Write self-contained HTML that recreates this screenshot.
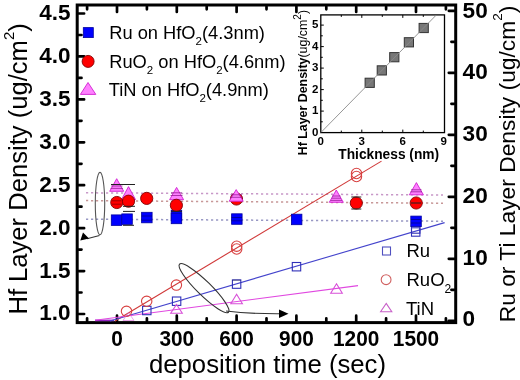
<!DOCTYPE html>
<html><head><meta charset="utf-8"><title>Hf layer density vs deposition time</title>
<style>html,body{margin:0;padding:0;background:#fff;}svg{display:block;}</style></head>
<body><svg width="520" height="380" viewBox="0 0 520 380">
<rect width="520" height="380" fill="#fff"/>
<rect x="77.2" y="5.0" width="378.5" height="317.6" fill="none" stroke="#000" stroke-width="3"/>
<path d="M87.1 321.1V318.3M87.1 6.5V9.3M117.0 321.1V315.7M117.0 6.5V11.9M146.9 321.1V318.3M146.9 6.5V9.3M176.8 321.1V315.7M176.8 6.5V11.9M206.7 321.1V318.3M206.7 6.5V9.3M236.6 321.1V315.7M236.6 6.5V11.9M266.5 321.1V318.3M266.5 6.5V9.3M296.4 321.1V315.7M296.4 6.5V11.9M326.3 321.1V318.3M326.3 6.5V9.3M356.2 321.1V315.7M356.2 6.5V11.9M386.1 321.1V318.3M386.1 6.5V9.3M416.0 321.1V315.7M416.0 6.5V11.9M445.9 321.1V318.3M445.9 6.5V9.3M78.7 314.0H84.1M78.7 292.5H81.5M78.7 271.1H84.1M78.7 249.6H81.5M78.7 228.2H84.1M78.7 206.7H81.5M78.7 185.2H84.1M78.7 163.8H81.5M78.7 142.3H84.1M78.7 120.8H81.5M78.7 99.4H84.1M78.7 77.9H81.5M78.7 56.4H84.1M78.7 35.0H81.5M78.7 13.5H84.1M454.2 320.8H448.8M454.2 289.8H451.4M454.2 258.8H448.8M454.2 227.8H451.4M454.2 196.8H448.8M454.2 165.8H451.4M454.2 134.8H448.8M454.2 103.8H451.4M454.2 72.8H448.8M454.2 41.8H451.4M454.2 10.8H448.8" stroke="#000" stroke-width="2.7" stroke-linecap="round" fill="none"/>
<g font-family='"Liberation Sans", Arial, sans-serif' font-weight="bold" font-size="22.5"><text x="70.6" y="19.9" text-anchor="end">4.5</text><text x="70.6" y="62.8" text-anchor="end">4.0</text><text x="70.6" y="105.8" text-anchor="end">3.5</text><text x="70.6" y="148.7" text-anchor="end">3.0</text><text x="70.6" y="191.6" text-anchor="end">2.5</text><text x="70.6" y="234.6" text-anchor="end">2.0</text><text x="70.6" y="277.5" text-anchor="end">1.5</text><text x="70.6" y="320.4" text-anchor="end">1.0</text></g>
<g font-family='"Liberation Sans", Arial, sans-serif' font-weight="bold" font-size="21.5" transform="scale(0.97 1)"><text x="120.6" y="345.8" text-anchor="middle">0</text><text x="182.3" y="345.8" text-anchor="middle">300</text><text x="243.9" y="345.8" text-anchor="middle">600</text><text x="305.6" y="345.8" text-anchor="middle">900</text><text x="367.2" y="345.8" text-anchor="middle">1200</text><text x="428.9" y="345.8" text-anchor="middle">1500</text></g>
<g font-family='"Liberation Sans", Arial, sans-serif' font-weight="bold" font-size="22.6"><text x="462.6" y="326.3">0</text><text x="462.6" y="264.6">10</text><text x="462.6" y="202.8">20</text><text x="462.6" y="141.1">30</text><text x="462.6" y="79.3">40</text><text x="462.6" y="17.6">50</text></g>
<text transform="translate(27.3,314.6) rotate(-90)" font-family='"Liberation Sans", Arial, sans-serif' font-size="25.6">Hf Layer Density (ug/cm<tspan font-size="15" dy="-13">2</tspan><tspan dy="13">)</tspan></text>
<text transform="translate(514.7,322.3) rotate(-90)" font-family='"Liberation Sans", Arial, sans-serif' font-size="22.8">Ru or Ti Layer Density (ug/cm<tspan font-size="13.5" dy="-13">2</tspan><tspan dy="13">)</tspan></text>
<text x="149" y="373" font-family='"Liberation Sans", Arial, sans-serif' font-size="25.7">deposition time (sec)</text>
<path d="M86 192.8L443 195" stroke="#c898c8" stroke-width="1.5" stroke-dasharray="2.2 2.8"/>
<path d="M86 200.6L443 203.2" stroke="#c89898" stroke-width="1.5" stroke-dasharray="2.2 2.8"/>
<path d="M86 219.2L443 221.2" stroke="#9898c4" stroke-width="1.5" stroke-dasharray="2.2 2.8"/>
<path d="M95 320.4L114 320.4" stroke="#9020c0" stroke-width="1.6"/>
<path d="M115 321L381.5 161.1" stroke="#d03838" stroke-width="1.1"/>
<path d="M110 321L444.6 222.6" stroke="#4444cc" stroke-width="1.1"/>
<path d="M95 320.2L358 285.6" stroke="#e048e0" stroke-width="1.1"/>
<rect x="142.6" y="306.3" width="8.4" height="8.4" fill="none" stroke="#3030b8" stroke-width="1.1"/><rect x="172.4" y="297.0" width="8.4" height="8.4" fill="none" stroke="#3030b8" stroke-width="1.1"/><rect x="232.4" y="279.9" width="8.4" height="8.4" fill="none" stroke="#3030b8" stroke-width="1.1"/><rect x="292.3" y="262.5" width="8.4" height="8.4" fill="none" stroke="#3030b8" stroke-width="1.1"/><rect x="411.5" y="224.8" width="8.4" height="8.4" fill="none" stroke="#3030b8" stroke-width="1.1"/><rect x="411.5" y="227.8" width="8.4" height="8.4" fill="none" stroke="#3030b8" stroke-width="1.1"/><circle cx="126.5" cy="311.3" r="5.2" fill="none" stroke="#d84040" stroke-width="1.1"/><circle cx="146.7" cy="301.3" r="5.2" fill="none" stroke="#d84040" stroke-width="1.1"/><circle cx="176.4" cy="285.1" r="5.2" fill="none" stroke="#d84040" stroke-width="1.1"/><circle cx="236.7" cy="246.2" r="5.2" fill="none" stroke="#d84040" stroke-width="1.1"/><circle cx="236.7" cy="249.0" r="5.2" fill="none" stroke="#d84040" stroke-width="1.1"/><circle cx="356.5" cy="173.5" r="5.2" fill="none" stroke="#d84040" stroke-width="1.1"/><circle cx="356.5" cy="176.5" r="5.2" fill="none" stroke="#d84040" stroke-width="1.1"/><path d="M128.5 312.5L134 320.5H123Z" fill="none" stroke="#d860d8" stroke-opacity="0.55" stroke-width="1"/><path d="M176.5 304.5L182.3 313.2H170.7Z" fill="none" stroke="#d850d8" stroke-width="1.1"/><path d="M236.6 294.2L242.4 303.7H230.8Z" fill="none" stroke="#d850d8" stroke-width="1.1"/><path d="M336.5 283.7L342.3 293.3H330.7Z" fill="none" stroke="#d850d8" stroke-width="1.1"/>
<rect x="111.3" y="214.9" width="10.5" height="10.5" fill="#0000ff" stroke="#0000a0" stroke-width="0.8"/><rect x="121.8" y="213.9" width="10.5" height="10.5" fill="#0000ff" stroke="#0000a0" stroke-width="0.8"/><rect x="141.6" y="212.3" width="10.5" height="10.5" fill="#0000ff" stroke="#0000a0" stroke-width="0.8"/><rect x="171.2" y="210.2" width="10.5" height="10.5" fill="#0000ff" stroke="#0000a0" stroke-width="0.8"/><rect x="171.2" y="213.2" width="10.5" height="10.5" fill="#0000ff" stroke="#0000a0" stroke-width="0.8"/><rect x="231.6" y="213.8" width="10.5" height="10.5" fill="#0000ff" stroke="#0000a0" stroke-width="0.8"/><rect x="291.4" y="214.2" width="10.5" height="10.5" fill="#0000ff" stroke="#0000a0" stroke-width="0.8"/><rect x="410.8" y="216.1" width="10.5" height="10.5" fill="#0000ff" stroke="#0000a0" stroke-width="0.8"/><circle cx="236.5" cy="199.0" r="6.1" fill="#ff0000" stroke="#800000" stroke-width="0.9"/><path d="M116.7 178.7L123.7 191.3H109.7Z" fill="#ff80ff" stroke="#d020d0" stroke-width="0.9"/><path d="M128.5 186.6L135.5 199.6H121.5Z" fill="#ff80ff" stroke="#d020d0" stroke-width="0.9"/><path d="M176.6 187.4L183.6 199.7H169.6Z" fill="#ff80ff" stroke="#d020d0" stroke-width="0.9"/><path d="M236.2 189.6L243.2 201.2H229.2Z" fill="#ff80ff" stroke="#d020d0" stroke-width="0.9"/><path d="M336.3 190.0L343.3 202.3H329.3Z" fill="#ff80ff" stroke="#d020d0" stroke-width="0.9"/><path d="M416.4 182.6L423.4 194.8H409.4Z" fill="#ff80ff" stroke="#d020d0" stroke-width="0.9"/><circle cx="116.8" cy="202.5" r="6.1" fill="#ff0000" stroke="#800000" stroke-width="0.9"/><circle cx="128.5" cy="201.2" r="6.1" fill="#ff0000" stroke="#800000" stroke-width="0.9"/><circle cx="146.7" cy="198.4" r="6.1" fill="#ff0000" stroke="#800000" stroke-width="0.9"/><circle cx="176.4" cy="205.3" r="6.1" fill="#ff0000" stroke="#800000" stroke-width="0.9"/><circle cx="356.3" cy="203.0" r="6.1" fill="#ff0000" stroke="#800000" stroke-width="0.9"/><circle cx="416.2" cy="203.0" r="6.1" fill="#ff0000" stroke="#800000" stroke-width="0.9"/>
<path d="M111 184.5H135M123 206.3H135M123 211.4H135M123 225.3H134M171 211.3H182M351.3 197H361.3M351.3 209H361.3M411 203H421" stroke="#202020" stroke-width="1"/>
<path d="M232.4 280.2H240.8M141.5 216H152M141.5 220.2H152M112 200.8H121.5M112 204.2H121.5M411 219.5H421M411 223H421M231.5 217.5H242M231.5 220.8H242" stroke="#000" stroke-opacity="0.45" stroke-width="0.8"/>
<path d="M332 196H340.6M331.5 198.2H341M330.5 200.4H342M411 189.8H421.5M410.5 191.8H422M111 186H122.5M110.5 188.4H123M171 192.8H182M170.5 195.5H182.5M230.5 194.8H242M230 197.3H242.5" stroke="#901890" stroke-opacity="0.75" stroke-width="1"/>
<ellipse cx="100" cy="203.6" rx="4.7" ry="31.2" fill="none" stroke="#555" stroke-width="1.1"/>
<path d="M99.5 235.5L87 238.8" stroke="#333" stroke-width="1.1" fill="none"/><path d="M80.3 240.4L83 232.6L89 238.6Z" fill="#000"/>
<ellipse cx="204" cy="288.2" rx="34.3" ry="7" transform="rotate(44.5 204 288.2)" fill="none" stroke="#333" stroke-width="1.1"/>
<path d="M226 311Q250 314 280 313.8" stroke="#333" stroke-width="1.1" fill="none"/><path d="M288.5 313.8L279 309.5V318Z" fill="#000"/>
<rect x="83.3" y="27.6" width="10" height="10" fill="#0000ff" stroke="#0000a0" stroke-width="0.8"/>
<circle cx="88.1" cy="61.4" r="6" fill="#ff0000" stroke="#800000" stroke-width="0.9"/>
<path d="M88 82.5L95.8 94.4H80.4Z" fill="#ff80ff" stroke="#d020d0" stroke-width="0.9"/>
<g font-family='"Liberation Sans", Arial, sans-serif' font-size="18.3"><text x="109.2" y="38.8">Ru on HfO<tspan font-size="11.5" dy="6">2</tspan><tspan dy="-6">(4.3nm)</tspan></text><text x="109.2" y="67.9">RuO<tspan font-size="11.5" dy="6">2</tspan><tspan dy="-6"> on HfO</tspan><tspan font-size="11.5" dy="6">2</tspan><tspan dy="-6">(4.6nm)</tspan></text><text x="108.7" y="96.3">TiN on HfO<tspan font-size="11.5" dy="6">2</tspan><tspan dy="-6">(4.9nm)</tspan></text></g>
<rect x="382.5" y="247.0" width="8" height="8" fill="none" stroke="#5050c0" stroke-width="1.1"/>
<circle cx="386.1" cy="279.7" r="4.9" fill="none" stroke="#d06060" stroke-width="1.1"/>
<path d="M386.2 303.4L391.8 311.7H380.6Z" fill="none" stroke="#c860c8" stroke-width="1.1"/>
<g font-family='"Liberation Sans", Arial, sans-serif' font-size="18.5"><text x="406.5" y="257.3">Ru</text><text x="406.5" y="286.2">RuO<tspan font-size="12" dy="6.3">2</tspan></text><text x="406" y="314.6">TiN</text></g>
<rect x="320.8" y="14.9" width="123.69999999999999" height="117.69999999999999" fill="#fff" stroke="#000" stroke-width="1.3"/>
<path d="M341.3 132.6V130.6M341.3 14.9V16.9M361.8 132.6V129.6M361.8 14.9V17.9M382.3 132.6V130.6M382.3 14.9V16.9M402.8 132.6V129.6M402.8 14.9V17.9M423.3 132.6V130.6M423.3 14.9V16.9M320.8 121.8H322.8M320.8 111.1H323.8M320.8 100.3H322.8M320.8 89.6H323.8M320.8 78.8H322.8M320.8 68.1H323.8M320.8 57.3H322.8M320.8 46.6H323.8M320.8 35.8H322.8M320.8 25.1H323.8" stroke="#000" stroke-width="1"/>
<rect x="365.1" y="78.2" width="9.2" height="9.2" fill="#777" stroke="#333" stroke-width="1"/>
<rect x="377.2" y="65.8" width="9.2" height="9.2" fill="#777" stroke="#333" stroke-width="1"/>
<rect x="389.7" y="52.6" width="9.2" height="9.2" fill="#777" stroke="#333" stroke-width="1"/>
<rect x="404.3" y="37.7" width="9.2" height="9.2" fill="#777" stroke="#333" stroke-width="1"/>
<rect x="419.1" y="23.4" width="9.2" height="9.2" fill="#777" stroke="#333" stroke-width="1"/>
<path d="M321.1 132.29999999999998L435.8 15.5" stroke="#8a8a8a" stroke-width="0.9"/>
<g font-family='"Liberation Sans", Arial, sans-serif' font-weight="bold" font-size="11.5"><text x="318.4" y="135.7" text-anchor="end">0</text><text x="318.4" y="114.2" text-anchor="end">1</text><text x="318.4" y="92.7" text-anchor="end">2</text><text x="318.4" y="71.2" text-anchor="end">3</text><text x="318.4" y="49.7" text-anchor="end">4</text><text x="318.4" y="28.2" text-anchor="end">5</text><text x="320.8" y="144.6" text-anchor="middle">0</text><text x="361.8" y="144.6" text-anchor="middle">3</text><text x="402.8" y="144.6" text-anchor="middle">6</text><text x="443.8" y="144.6" text-anchor="middle">9</text></g>
<text x="338.3" y="159.3" font-family='"Liberation Sans", Arial, sans-serif' font-weight="bold" font-size="13.75">Thickness (nm)</text>
<text transform="translate(306.8,155.3) rotate(-90)" font-family='"Liberation Sans", Arial, sans-serif' font-size="12.4"><tspan font-weight="bold">Hf Layer Density</tspan>(ug/cm<tspan font-size="10" dy="-5.5">2</tspan><tspan dy="5.5">)</tspan></text>
</svg></body></html>
